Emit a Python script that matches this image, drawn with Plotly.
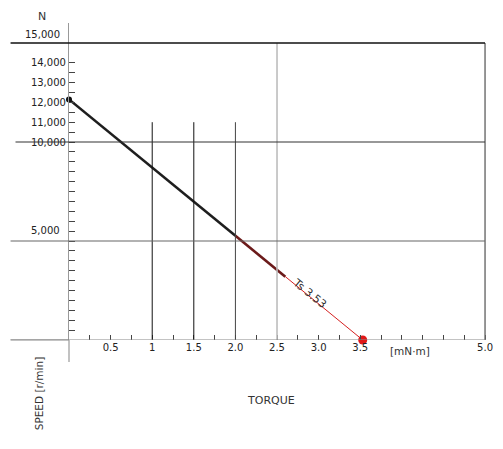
import plotly.graph_objects as go

# ---- data ----
curve_torque = [0.0, 2.0, 2.6, 3.53]          # mN·m breakpoints of the speed-torque line
curve_speed = [12150, 5270, 3200, 0]          # r/min
stall_torque = 3.53
no_load_speed = 12150
ref_lines_x = [1.0, 1.5, 2.0]                 # short reference verticals
ref_lines_top = 11000
rated_x = 2.5
right_x = 5.0
h_lines = [15000, 10000, 5000]

x_tickvals = [0.25 * i for i in range(1, 21)]
x_labels = {0.5: "0.5", 1.0: "1", 1.5: "1.5", 2.0: "2.0", 2.5: "2.5",
            3.0: "3.0", 3.5: "3.5", 5.0: "5.0"}
y_tickvals = [500 * i for i in range(1, 29)]
y_labels = {10000: "10,000", 11000: "11,000", 12000: "12,000",
            13000: "13,000", 14000: "14,000"}

FONT = "DejaVu Sans"

# layout geometry
L, R, T, B = 69, 10, 23, 109
W, H = 503, 449
PW, PH = W - L - R, H - T - B
xmax = PW / 84.0


def px(xp):
    return (xp - L) / PW


def py(yp):
    return (H - B - yp) / PH


fig = go.Figure()

# black thick segment
fig.add_trace(go.Scatter(x=curve_torque[0:2], y=curve_speed[0:2], mode="lines",
                         line=dict(color="#1e1e1e", width=2.6), hoverinfo="skip"))
# dark red thick segment
fig.add_trace(go.Scatter(x=curve_torque[1:3], y=curve_speed[1:3], mode="lines",
                         line=dict(color="#6b1a1a", width=2.6), hoverinfo="skip"))
# thin red segment
fig.add_trace(go.Scatter(x=curve_torque[2:4], y=curve_speed[2:4], mode="lines",
                         line=dict(color="#d42020", width=1), hoverinfo="skip"))
# end points
fig.add_trace(go.Scatter(x=[0], y=[no_load_speed], mode="markers",
                         marker=dict(color="#111111", size=6), cliponaxis=False))
fig.add_trace(go.Scatter(x=[stall_torque], y=[0], mode="markers",
                         marker=dict(color="#e01818", size=9), cliponaxis=False))

shapes = []
# short reference verticals
for xv in ref_lines_x:
    shapes.append(dict(type="line", xref="x", yref="y", x0=xv, x1=xv, y0=0, y1=ref_lines_top,
                       line=dict(color="#111111" if xv < 2 else "#444444", width=1)))
# rated vertical (light gray)
shapes.append(dict(type="line", xref="x", yref="y", x0=rated_x, x1=rated_x, y0=0, y1=h_lines[0],
                   line=dict(color="#bdbdbd", width=1.6)))
# right border
shapes.append(dict(type="line", xref="x", yref="y", x0=right_x, x1=right_x, y0=0, y1=h_lines[0],
                   line=dict(color="#6a6a6a", width=1.4), layer="above"))
# horizontal lines
hl_styles = {15000: ("#111111", 1.5, px(10)), 10000: ("#333333", 1.2, px(15)),
             5000: ("#666666", 1.1, px(10))}
for yv in h_lines:
    c, w, x0 = hl_styles[yv]
    shapes.append(dict(type="line", xref="paper", yref="y", x0=x0, x1=px(489), y0=yv, y1=yv,
                       line=dict(color=c, width=w), layer="above"))
# x-axis extension to the left
shapes.append(dict(type="line", xref="paper", yref="paper", x0=px(10), x1=0, y0=0, y1=0,
                   line=dict(color="#888888", width=1.2)))
# y-axis extension downward
shapes.append(dict(type="line", xref="paper", yref="paper", x0=0, x1=0, y0=0, y1=py(362),
                   line=dict(color="#999999", width=1.2)))


def ann(text, xp, yp, size, xanchor="center", angle=0, color="#333333"):
    return dict(text=text, xref="paper", yref="paper", x=px(xp), y=py(yp), showarrow=False,
                xanchor=xanchor, yanchor="middle", textangle=angle,
                font=dict(family=FONT, size=size, color=color))


annotations = [
    ann("N", 42, 17, 11),
    ann("15,000", 62, 34, 10, xanchor="right", color="#222222"),
    ann("5,000", 62, 231, 10, xanchor="right", color="#222222"),
    ann("[mN·m]", 413, 351, 10.5),
    ann("TORQUE", 273, 400, 11),
    ann("SPEED [r/min]", 39, 393, 10.5, angle=-90),
    ann("Ts 3.53", 312, 293, 11, angle=39),
]

ytop = 16010
fig.update_layout(
    width=W, height=H,
    margin=dict(l=L, r=R, t=T, b=B, pad=0),
    paper_bgcolor="white", plot_bgcolor="white",
    showlegend=False,
    shapes=shapes, annotations=annotations,
    font=dict(family=FONT, size=10, color="#222222"),
    xaxis=dict(range=[0, xmax], showgrid=False, zeroline=False, showline=False,
               ticks="inside", ticklen=5,
               tickcolor="#444444", tickwidth=1, tickmode="array", tickvals=x_tickvals,
               ticktext=[x_labels.get(round(v, 2), "") for v in x_tickvals],
               tickfont=dict(family=FONT, size=10, color="#222222"), fixedrange=True),
    yaxis=dict(range=[0, ytop], showgrid=False, zeroline=False, showline=True,
               linecolor="#999999", linewidth=1.2, ticks="inside", ticklen=6,
               tickcolor="#444444", tickwidth=1, tickmode="array", tickvals=y_tickvals,
               ticktext=[y_labels.get(v, "") for v in y_tickvals],
               tickfont=dict(family=FONT, size=10, color="#222222"), fixedrange=True),
)
# x-axis baseline from far left to the right border
fig.add_shape(type="line", xref="paper", yref="y", x0=px(10), x1=px(490), y0=0, y1=0,
              line=dict(color="#888888", width=1.2))

fig.write_html("out.html")
